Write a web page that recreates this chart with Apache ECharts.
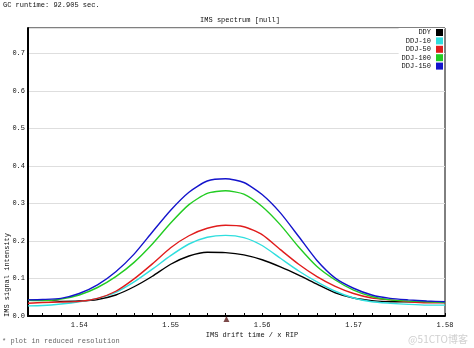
<!DOCTYPE html>
<html>
<head>
<meta charset="utf-8">
<script src="https://cdn.jsdelivr.net/npm/echarts@6/dist/echarts.min.js"></script>
<style>
  html, body { margin: 0; padding: 0; background: #fff; }
  #chart { width: 474px; height: 348px; }
</style>
</head>
<body>
<div id="chart"></div>
<script>
// Drift time axis (x RIP) at which each spectrum is sampled
const driftTime = [1.5344, 1.536, 1.538, 1.540, 1.542, 1.544, 1.546, 1.548, 1.550, 1.552, 1.554, 1.556,
                   1.558, 1.560, 1.562, 1.564, 1.566, 1.568, 1.570, 1.572, 1.574, 1.576, 1.578, 1.580];

const seriesNames = ['DDY', 'DDJ-10', 'DDJ-50', 'DDJ-100', 'DDJ-150'];

// IMS signal intensity per sample
const ddy    = [0.042, 0.043, 0.039, 0.040, 0.044, 0.056, 0.078, 0.106, 0.138, 0.160, 0.170, 0.169,
                0.163, 0.150, 0.131, 0.109, 0.085, 0.062, 0.048, 0.041, 0.038, 0.038, 0.038, 0.038];
const ddj10  = [0.027, 0.028, 0.032, 0.038, 0.047, 0.063, 0.091, 0.125, 0.161, 0.192, 0.210, 0.215,
                0.209, 0.188, 0.154, 0.120, 0.091, 0.066, 0.048, 0.038, 0.034, 0.031, 0.029, 0.029];
const ddj50  = [0.034, 0.036, 0.037, 0.039, 0.047, 0.066, 0.099, 0.139, 0.182, 0.214, 0.234, 0.242,
                0.238, 0.217, 0.177, 0.138, 0.105, 0.079, 0.060, 0.048, 0.043, 0.038, 0.035, 0.035];
const ddj100 = [0.042, 0.041, 0.045, 0.056, 0.076, 0.105, 0.143, 0.192, 0.248, 0.297, 0.327, 0.334,
                0.325, 0.292, 0.243, 0.184, 0.132, 0.096, 0.069, 0.052, 0.043, 0.040, 0.038, 0.036];
const ddj150 = [0.043, 0.044, 0.047, 0.060, 0.083, 0.118, 0.165, 0.224, 0.282, 0.330, 0.360, 0.366,
                0.356, 0.324, 0.275, 0.212, 0.148, 0.101, 0.074, 0.056, 0.047, 0.043, 0.040, 0.038];

const yTickLabels = ['0.0', '0.1', '0.2', '0.3', '0.4', '0.5', '0.6', '0.7'];
const markerDriftTime = 1.5561;

const colors = ['#000000', '#30dede', '#e01c1c', '#22cc22', '#1414cc'];
const values = [ddy, ddj10, ddj50, ddj100, ddj150];
const FONT = '"Liberation Mono", "DejaVu Sans Mono", monospace';
const TEXT = '#111';

const chart = echarts.init(document.getElementById('chart'), null, { renderer: 'canvas' });

const lineSeries = seriesNames.map((name, i) => ({
  name,
  type: 'line',
  data: driftTime.map((t, k) => [t, values[i][k]]),
  smooth: 0.22,
  showSymbol: false,
  symbol: 'none',
  lineStyle: { color: colors[i], width: 1.4 },
  itemStyle: { color: colors[i] },
  z: 3 + i
}));

chart.setOption({
  animation: false,
  backgroundColor: '#ffffff',
  textStyle: { fontFamily: FONT },
  grid: {
    left: 28, right: 29, top: 28, bottom: 32,
    show: true, borderColor: '#000', borderWidth: 1, backgroundColor: 'transparent'
  },
  legend: {
    data: seriesNames,
    orient: 'vertical',
    right: 30, top: 28,
    align: 'right',
    icon: 'rect',
    itemWidth: 7, itemHeight: 7, itemGap: 1.4,
    padding: [1, 1, 1, 3],
    backgroundColor: '#fff',
    textStyle: { fontFamily: FONT, fontSize: 7, color: TEXT, padding: [0, 0, 0, 0] },
    z: 10
  },
  xAxis: {
    type: 'value',
    min: 1.5344, max: 1.58,
    minInterval: 0.002, maxInterval: 0.002,
    splitNumber: 23,
    axisLine: { show: true, onZero: false, lineStyle: { color: '#000', width: 2 } },
    axisTick: { show: true, inside: true, length: 3, lineStyle: { color: '#000', width: 1 } },
    splitLine: { show: false },
    axisLabel: {
      interval: 0, margin: 6,
      fontFamily: FONT, fontSize: 7, color: TEXT,
      showMinLabel: true, showMaxLabel: true,
      formatter: v => {
        const h = v * 100;
        return Math.abs(h - Math.round(h)) < 1e-6 ? (Math.round(h) / 100).toFixed(2) : '';
      }
    }
  },
  yAxis: {
    type: 'value',
    min: 0, max: 0.768, interval: 0.1,
    axisLine: { show: true, lineStyle: { color: '#000', width: 2 } },
    axisTick: { show: false },
    splitLine: { show: true, lineStyle: { color: '#dedede', width: 1 } },
    axisLabel: {
      margin: 3, fontFamily: FONT, fontSize: 7, color: TEXT,
      formatter: v => {
        const i = Math.round(v * 10);
        return Math.abs(v * 10 - i) < 1e-6 && i < yTickLabels.length ? yTickLabels[i] : '';
      }
    }
  },
  series: lineSeries.concat([{
    name: 'marker',
    type: 'scatter',
    data: [[markerDriftTime, -0.008]],
    symbol: 'triangle',
    symbolSize: [6, 6],
    clip: false,
    silent: true,
    itemStyle: { color: '#5a1a1a' },
    z: 20
  }]),
  graphic: [
    { type: 'text', left: 3, top: 2, style: { text: 'GC runtime: 92.905 sec.', font: '7px ' + FONT, fill: TEXT } },
    { type: 'text', x: 240, y: 20, style: { text: 'IMS spectrum [null]', font: '7px ' + FONT, fill: TEXT, textAlign: 'center', textVerticalAlign: 'middle' } },
    { type: 'text', x: 252, y: 335, style: { text: 'IMS drift time / x RIP', font: '7px ' + FONT, fill: TEXT, textAlign: 'center', textVerticalAlign: 'middle' } },
    { type: 'text', x: 7, y: 317, rotation: Math.PI / 2, style: { text: 'IMS signal intensity', font: '7px ' + FONT, fill: TEXT, textAlign: 'left', textVerticalAlign: 'middle' } },
    { type: 'text', x: 2, y: 341, style: { text: '* plot in reduced resolution', font: '7px ' + FONT, fill: '#666', textAlign: 'left', textVerticalAlign: 'middle' } },
    { type: 'text', x: 468, y: 339, style: { text: '@51CTO博客', font: '10px "Noto Sans CJK SC", sans-serif', fill: '#d0d0d0', textAlign: 'right', textVerticalAlign: 'middle' } }
  ]
});
</script>
</body>
</html>
